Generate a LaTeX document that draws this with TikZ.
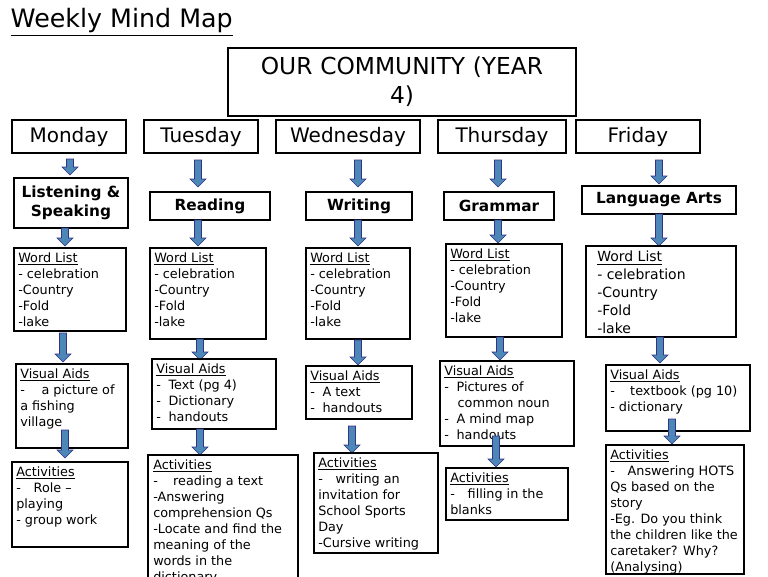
\documentclass[tikz,border=0pt]{standalone}
\usepackage{fontspec}
\setmainfont{DejaVu Sans}
\begin{document}
\begin{tikzpicture}[x=0.75pt,y=-0.75pt,
  box/.style={draw=black,line width=1.2pt},
  txt/.style={anchor=north west,inner sep=0pt,align=left,font=\fontsize{9.6}{12.1}\selectfont},
  day/.style={font=\fontsize{15}{17}\selectfont},
  subj/.style={font=\bfseries\fontsize{11.5}{14.5}\selectfont,align=center},
  arr/.style={fill=blue!45!cyan!60!black!70,draw=blue!40!black!80,line width=0.4pt}]
\useasboundingbox (0,0) rectangle (768,576);
\newcommand{\darr}[3]{\path[arr] (#1-3.5,#2) -- (#1+3.5,#2) -- (#1+3.5,#3-8) -- (#1+8,#3-8) -- (#1,#3) -- (#1-8,#3-8) -- (#1-3.5,#3-8) -- cycle;}
\newcommand{\bx}[5]{\draw[box] (#1,#2) rectangle (#3,#4); \node[txt] at (#1+4,#2+4) {#5};}
\node[anchor=west,font=\fontsize{19}{21}\selectfont] (title) at (6,22) {\underline{Weekly Mind Map}};
\draw[box] (228,48) rectangle (576,116);
\node[align=center,font=\fontsize{17.5}{22}\selectfont,text width=250pt] (main) at (402,82) {OUR COMMUNITY (YEAR\\4)};
% days
\foreach \a/\b/\n in {12/126/Monday,144/258/Tuesday,276/420/Wednesday,438/566/Thursday,576/700/Friday}{
  \draw[box] (\a,120) rectangle (\b,153);
  \node[day] at ({(\a+\b)/2},137) {\n};}
% subject boxes
\draw[box] (14,178) rectangle (128,228); \node[subj] (s1) at (71,203) {Listening \&\\Speaking};
\draw[box] (150,192) rectangle (270,220); \node[subj] (s2) at (210,206) {Reading};
\draw[box] (306,192) rectangle (412,220); \node[subj] (s3) at (359,206) {Writing};
\draw[box] (444,192) rectangle (554,220); \node[subj] (s4) at (499,206) {Grammar};
\draw[box] (582,186) rectangle (736,214); \node[subj] (s5) at (659,200) {Language Arts};
% arrows day -> subject
\darr{70}{159}{175}\darr{198}{160}{187}\darr{358}{160}{187}\darr{498}{160}{187}\darr{659}{160}{184}
% arrows subject -> word list
\darr{65}{228}{246}\darr{198}{220}{246}\darr{358}{220}{246}\darr{498}{220}{243}\darr{659}{214}{246}
% word lists
\def\wl{\underline{Word List}\\- celebration\\-Country\\-Fold\\-lake}
\bx{14}{248}{126}{331}{\wl}
\bx{150}{248}{266}{339}{\wl}
\bx{306}{248}{410}{339}{\wl}
\bx{446}{244}{562}{337}{\wl}
\draw[box] (586,246) rectangle (736,337); \node[txt,font=\fontsize{10.5}{13.5}\selectfont] at (597,251) {\wl};
% arrows word list -> visual aids
\darr{63}{333}{362}\darr{200}{339}{360}\darr{358}{340}{365}\darr{500}{337}{360}\darr{660}{337}{363}
% visual aids
\bx{16}{364}{128}{448}{\underline{Visual Aids}\\-\hspace{1.3em}a picture of\\a fishing\\village}
\bx{152}{359}{276}{429}{\underline{Visual Aids}\\-\hspace{0.6em}Text (pg 4)\\-\hspace{0.6em}Dictionary\\-\hspace{0.6em}handouts}
\bx{306}{366}{412}{419}{\underline{Visual Aids}\\-\hspace{0.6em}A text\\-\hspace{0.6em}handouts}
\bx{440}{361}{574}{446}{\underline{Visual Aids}\\-\hspace{0.6em}Pictures of\\\hspace{1.05em}common noun\\-\hspace{0.6em}A mind map\\-\hspace{0.6em}handouts}
\bx{606}{365}{750}{431}{\underline{Visual Aids}\\-\hspace{1.2em}textbook (pg 10)\\- dictionary}
% arrows visual aids -> activities
\darr{65}{430}{458}\darr{200}{429}{455}\darr{352}{426}{453}\darr{496}{436}{467}\darr{672}{419}{444}
% activities
\bx{12}{462}{128}{547}{\underline{Activities}\\-\hspace{1em}Role –\\playing\\- group work}
\draw[box] (148,455) rectangle (298,590); \node[txt] at (153,459) {\underline{Activities}\\-\hspace{1.2em}reading a text\\-Answering\\comprehension Qs\\-Locate and find the\\meaning of the\\words in the\\dictionary};
\bx{314}{453}{438}{553}{\underline{Activities}\\-\hspace{1em}writing an\\invitation for\\School Sports\\Day\\-Cursive writing}
\bx{446}{468}{568}{520}{\underline{Activities}\\-\hspace{1em}filling in the\\blanks}
\bx{606}{445}{744}{574}{\underline{Activities}\\-\hspace{1em}Answering HOTS\\Qs based on the\\story\\-Eg. Do you think\\the children like the\\caretaker? Why?\\(Analysing)}
\end{tikzpicture}
\end{document}
